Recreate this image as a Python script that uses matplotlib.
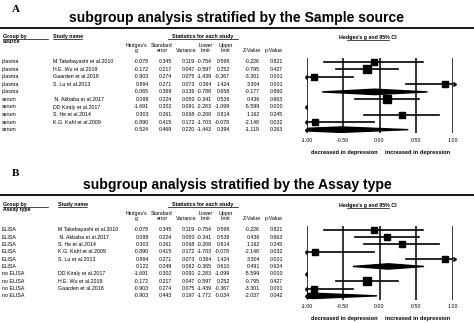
"""Forest plots: subgroup analyses by sample source and by assay type."""
import matplotlib.pyplot as plt
import numpy as np
from matplotlib.patches import Polygon

plt.rcParams["font.family"] = ["Liberation Sans", "DejaVu Sans"]
NARROW = ["Liberation Sans Narrow", "Liberation Sans"]

# ---- panel A: sample source ----
a_group = ["plasma"] * 5 + ["serum"] * 5
a_study = ["M.Takebayashi et al.2010", "H.E. Wu et al.2019", "Gaarden et al.2018",
           "S. Lu et al.2013", "", " N. Akbaba et al.2017", "DD Kiraly et al.2017",
           "S. He et al.2014", "K.G. Kahl et al.2009", ""]
a_g = [-0.078, -0.172, -0.903, 0.894, -0.065, 0.098, -1.691, 0.303, -0.890, -0.524]
a_se = [0.345, 0.217, 0.274, 0.271, 0.369, 0.224, 0.302, 0.261, 0.415, 0.469]
a_var = [0.119, 0.047, 0.075, 0.073, 0.136, 0.050, 0.091, 0.068, 0.172, 0.220]
a_lo = [-0.754, -0.597, -1.439, 0.364, -0.788, -0.341, -2.283, -0.208, -1.703, -1.443]
a_hi = [0.598, 0.252, -0.367, 1.424, 0.658, 0.536, -1.099, 0.814, -0.078, 0.394]
a_z = [-0.226, -0.795, -3.301, 3.304, -0.177, 0.436, -5.599, 1.162, -2.148, -1.119]
a_p = [0.821, 0.427, 0.001, 0.001, 0.860, 0.663, 0.000, 0.245, 0.032, 0.263]

# ---- panel B: assay type ----
b_group = ["ELISA"] * 6 + ["no ELISA"] * 4
b_study = ["M Takebayashi et al.2010", " N. Akbaba et al.2017", "S. He et al.2014",
           "K.G. Kahl et al.2009", "S. Lu et al.2013", "", "DD Kiraly et al.2017",
           "H.E. Wu et al.2019", "Gaarden et al.2018", ""]
b_g = [-0.078, 0.098, 0.303, -0.890, 0.894, 0.122, -1.691, -0.172, -0.903, -0.903]
b_se = [0.345, 0.224, 0.261, 0.415, 0.271, 0.249, 0.302, 0.217, 0.274, 0.443]
b_var = [0.119, 0.050, 0.068, 0.172, 0.073, 0.062, 0.091, 0.047, 0.075, 0.197]
b_lo = [-0.754, -0.341, -0.208, -1.703, 0.364, -0.365, -2.283, -0.597, -1.439, -1.772]
b_hi = [0.598, 0.536, 0.814, -0.078, 1.424, 0.610, -1.099, 0.252, -0.367, -0.034]
b_z = [-0.226, 0.436, 1.162, -2.148, 3.304, 0.491, -5.599, -0.795, -3.301, -2.037]
b_p = [0.821, 0.663, 0.245, 0.032, 0.001, 0.624, 0.000, 0.427, 0.001, 0.042]

ticks = [-1.0, -0.5, 0.0, 0.5, 1.0]
tick_labels = ["-1.00", "-0.50", "0.00", "0.50", "1.00"]

W, H = 474, 323
fig = plt.figure(figsize=(W / 100, H / 100), dpi=100)
canvas = fig.add_axes([0, 0, 1, 1])
canvas.set_xlim(0, W)
canvas.set_ylim(H, 0)
canvas.axis("off")

FS = 3.8
num_right = [149, 172, 195, 212, 230, 260, 283]
hdr_x = [136, 162, 186, 206, 226, 252, 274]
hdr_txt = ["Hedges's\ng", "Standard\nerror", "Variance", "Lower\nlimit", "Upper\nlimit",
           "Z-Value", "p-Value"]


def txt(x, y, s, **kw):
    kw.setdefault("fontsize", FS)
    kw.setdefault("va", "center")
    kw.setdefault("family", NARROW)
    canvas.text(x, y, s, **kw)


def uline(x0, x1, y):
    canvas.plot([x0, x1], [y, y], color="black", lw=0.5)


def draw_panel(letter, y_letter, title, y_title, y_rule, row0, dy, study_x, grp2,
               group, study, g, se, var, lo, hi, z, p):
    n = len(g)
    rows = row0 + dy * np.arange(n)
    canvas.text(12, y_letter, letter, family="Liberation Serif", weight="bold",
                fontsize=8, va="center", ha="left")
    canvas.text(237, y_title, title, weight="bold", fontsize=10.1, ha="center",
                va="center")
    canvas.plot([0, W], [y_rule, y_rule], color="black", lw=1.3)

    # column headers
    yh = row0 - 25
    txt(3, yh, "Group by", weight="bold")
    txt(3, yh + 4.4, grp2, weight="bold")
    uline(3, 48, yh + 2.2)
    txt(study_x, yh, "Study name", weight="bold")
    uline(study_x, study_x + 29, yh + 2.2)
    txt(203, yh, "Statistics for each study", weight="bold", ha="center")
    uline(168, 238, yh + 2.2)
    txt(368, yh + 1, "Hedges's g and 95% CI", weight="bold", ha="center")
    uline(347, 389, yh + 3.2)
    for x, t in zip(hdr_x, hdr_txt):
        if "\n" in t:
            txt(x, row0 - 13.5, t, ha="center", linespacing=1.1)
        else:
            txt(x, row0 - 11, t, ha="center")

    # table rows
    for i in range(n):
        y = rows[i]
        txt(2, y, group[i])
        txt(study_x, y, study[i])
        vals = [g[i], se[i], var[i], lo[i], hi[i], z[i], p[i]]
        for x, v in zip(num_right, vals):
            txt(x, y, f"{v:.3f}", ha="right")

    # forest plot
    top = row0 - dy / 2
    bot = rows[-1] + dy / 2
    ax = fig.add_axes([306.5 / W, 1 - bot / H, 146 / W, (bot - top) / H])
    ax.set_xlim(-1, 1)
    ax.set_ylim(n - 0.5, -0.5)
    for s in ax.spines.values():
        s.set_visible(False)
    ax.set_yticks([])
    ax.set_xticks(ticks)
    ax.set_xticklabels(tick_labels, fontsize=FS, family=NARROW)
    ax.tick_params(axis="x", length=0, pad=3.4)
    for t in ticks:
        ax.axvline(t, color="black", lw=1.1, zorder=1)

    # within-subgroup weights for box size
    grp = np.array(group)
    wts = 1 / np.array(var)
    for i in range(n):
        l, h = max(lo[i], -1), min(hi[i], 1)
        if study[i] == "":
            dh = 0.36
            poly = Polygon([[lo[i], i], [g[i], i - dh], [hi[i], i], [g[i], i + dh]],
                           closed=True, color="black", zorder=3)
            ax.add_patch(poly)
        else:
            if l < h:
                ax.plot([l, h], [i, i], color="black", lw=1.2, zorder=2)
            mask = (grp == grp[i]) & (np.array(study) != "")
            rel = wts[i] / wts[mask].sum()
            ms = (3.0 + 7 * np.sqrt(rel)) * 0.72
            ax.plot(g[i], i, marker="s", ms=ms, color="black", zorder=3)
        if lo[i] < -1:
            ax.plot(-1, i, marker=8, ms=2.4, color="black", clip_on=False, zorder=4)
        if hi[i] > 1:
            ax.plot(1, i, marker=9, ms=2.4, color="black", clip_on=False, zorder=4)

    ylab = n - 1 + 23 / dy
    ax.text(-0.48, ylab, "decreased in depression", weight="bold", fontsize=FS + 0.3,
            family=NARROW, ha="center", va="center", clip_on=False)
    ax.text(0.52, ylab, "increased in depression", weight="bold", fontsize=FS + 0.3,
            family=NARROW, ha="center", va="center", clip_on=False)


draw_panel("A", 9, "subgroup analysis stratified by the Sample source", 18, 27.7,
           61.7, 7.55, 53, "source",
           a_group, a_study, a_g, a_se, a_var, a_lo, a_hi, a_z, a_p)
draw_panel("B", 173, "subgroup analysis stratified by the Assay type", 185, 195,
           229.7, 7.35, 58, "Assay type",
           b_group, b_study, b_g, b_se, b_var, b_lo, b_hi, b_z, b_p)

fig.savefig("out.png", dpi=100)
